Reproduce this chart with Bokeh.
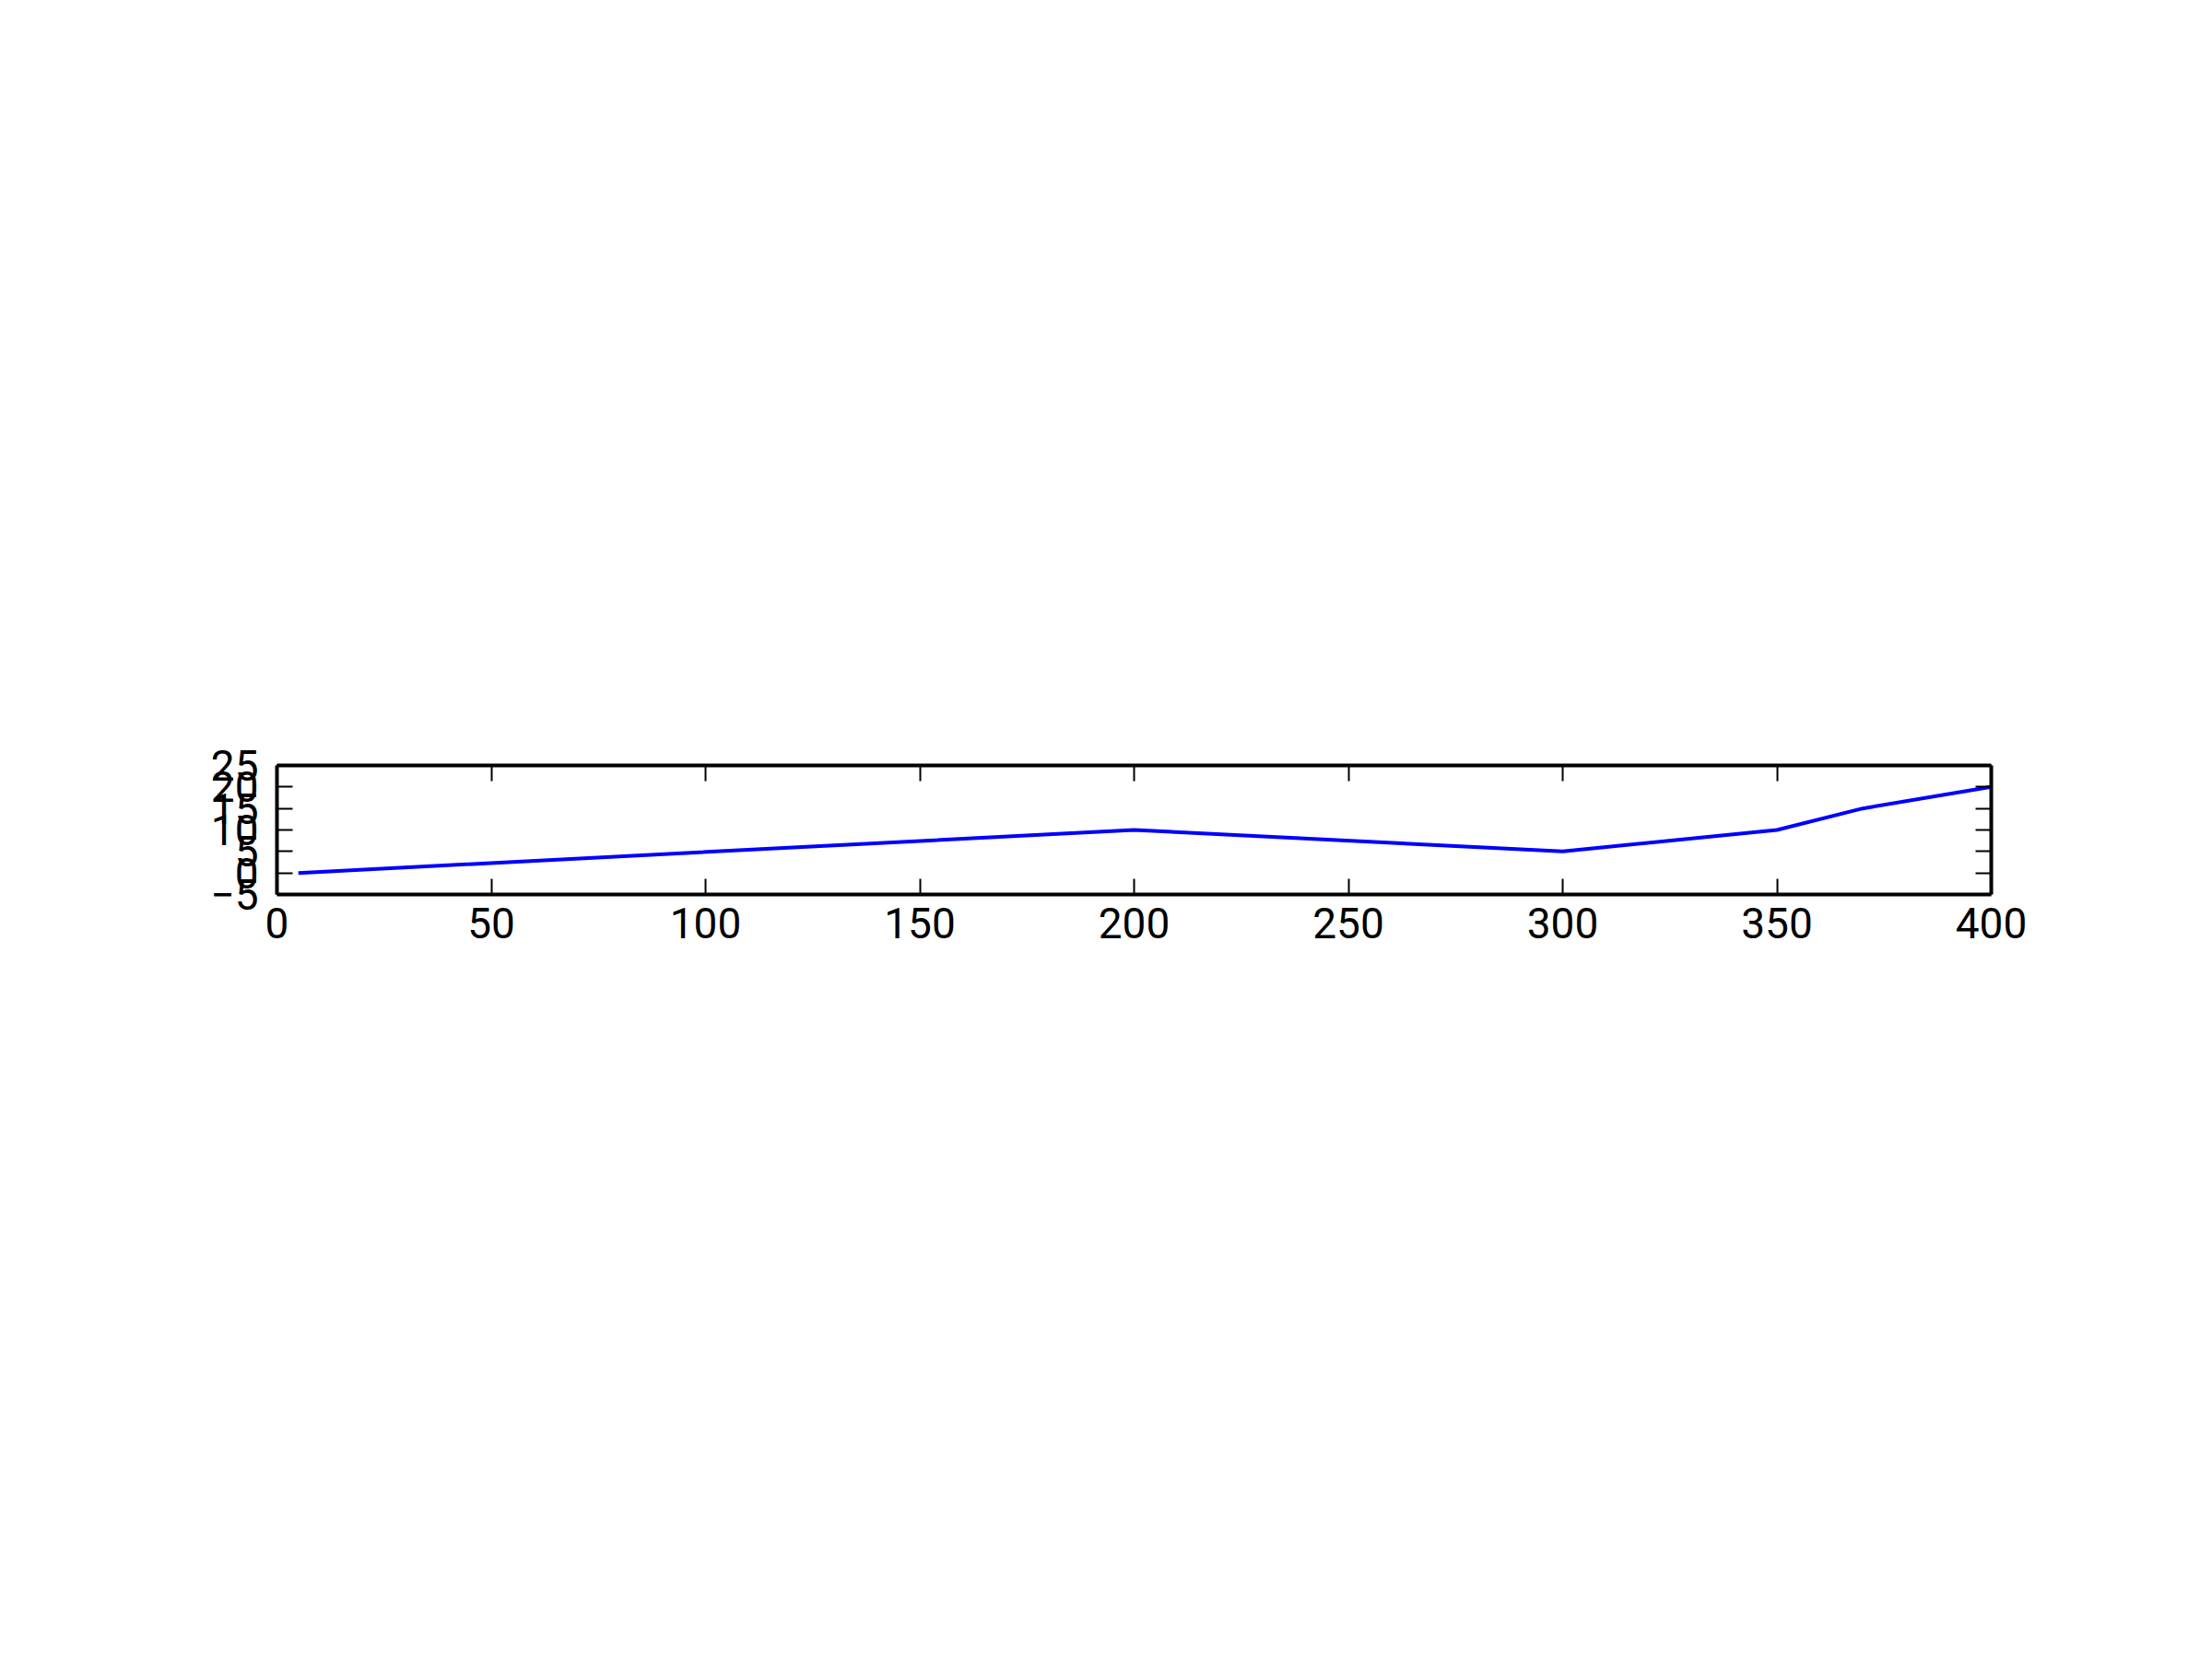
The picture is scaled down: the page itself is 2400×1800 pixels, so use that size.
from bokeh.plotting import figure
from bokeh.models import LinearAxis, FixedTicker, Range1d
from bokeh.embed import file_html
from bokeh.resources import INLINE

x_values = [5, 200, 300, 350, 370, 400]
y_values = [0, 10, 5, 10, 15, 20]
x_ticks = [0, 50, 100, 150, 200, 250, 300, 350, 400]
y_ticks = [-5, 0, 5, 10, 15, 20, 25]

FONT = "Roboto"
FS = "46px"

W, H = 2384, 1784
p = figure(width=W, height=H, output_backend="svg", toolbar_location=None,
           x_range=Range1d(0, 400), y_range=Range1d(-5, 25),
           x_axis_location=None, y_axis_location=None,
           min_border_left=300, min_border_right=224,
           min_border_top=830, min_border_bottom=814)
p.frame_width = 1860
p.frame_height = 140
p.xgrid.visible = False
p.ygrid.visible = False
p.outline_line_color = None
p.background_fill_color = "white"
p.border_fill_color = "white"

p.line(x_values, y_values, line_color="#0000ff", line_width=4)

def style(ax, labels=True):
    ax.axis_line_width = 4
    ax.axis_line_color = "black"
    ax.major_tick_in = 17
    ax.major_tick_out = 0
    ax.major_tick_line_width = 2
    ax.minor_tick_line_color = None
    ax.major_label_text_font = FONT
    ax.major_label_text_font_size = FS
    ax.major_label_text_color = "black"
    if not labels:
        ax.major_label_text_font_size = "0px"
        ax.major_label_text_alpha = 0

bx = LinearAxis(ticker=FixedTicker(ticks=x_ticks))
style(bx)
bx.major_label_standoff = 14
p.add_layout(bx, "below")

tx = LinearAxis(ticker=FixedTicker(ticks=x_ticks))
style(tx, labels=False)
p.add_layout(tx, "above")

ly = LinearAxis(ticker=FixedTicker(ticks=y_ticks))
style(ly)
ly.major_label_standoff = 20
ly.major_label_overrides = {-5: "\u22125"}
p.add_layout(ly, "left")

ry = LinearAxis(ticker=FixedTicker(ticks=y_ticks))
style(ry, labels=False)
p.add_layout(ry, "right")

open("out.html", "w").write(file_html(p, INLINE))
